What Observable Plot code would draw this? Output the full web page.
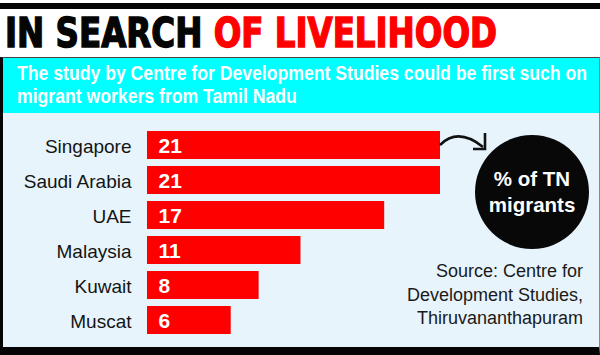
<!DOCTYPE html>
<html>
<head>
<meta charset="utf-8">
<script src="https://cdn.jsdelivr.net/npm/d3@7"></script>
<script src="https://cdn.jsdelivr.net/npm/@observablehq/plot@0.6"></script>
<style>
  html, body { margin: 0; padding: 0; background: #fff; }
  #root { position: relative; width: 600px; height: 355px; overflow: hidden; background: #fff; }
  #topbar { position: absolute; left: 0; top: 3px; width: 600px; height: 6px; background: #050505; }
  #title { position: absolute; left: 5px; top: 13px; white-space: nowrap; font-family: "DejaVu Sans", sans-serif; font-stretch: condensed; font-weight: 900; font-size: 41px; line-height: 41px; transform-origin: 0 0; }
  #title .b { color: #050505; -webkit-text-stroke: 1.4px #050505; }
  #title .r { color: #FF0000; -webkit-text-stroke: 1.4px #FF0000; }
  #panel { position: absolute; left: 0; top: 57px; width: 600px; height: 298px; box-sizing: border-box; border-left: 3px solid #050505; border-bottom: 8px solid #050505; border-top: 1px solid #444; border-right: 1px solid #888; background: #E8F4FC; }
  #cyan { position: absolute; left: 0; top: 0; right: 0; height: 55px; background: #00FFFF; }
  #sub { position: absolute; left: 14px; top: 3px; white-space: nowrap; color: #fff; font-family: "Liberation Sans", Arial, sans-serif; font-weight: bold; font-size: 21px; line-height: 23px; transform-origin: 0 0; }
  #chart { position: absolute; left: 0; top: 55px; }
  #circle { position: absolute; left: 475px; top: 135px; width: 114px; height: 114px; border-radius: 50%; background: #080808; color: #fff; display: flex; align-items: center; justify-content: center; text-align: center; font-family: "Liberation Sans", Arial, sans-serif; font-weight: bold; font-size: 20.5px; line-height: 26px; }
  #source { position: absolute; right: 17px; top: 260px; text-align: right; color: #1a1a1a; font-family: "Liberation Sans", Arial, sans-serif; font-size: 18px; line-height: 23.5px; white-space: nowrap; }
  #arrow { position: absolute; left: 0; top: 0; }
</style>
</head>
<body>
<div id="root">
  <div id="topbar"></div>
  <div id="title"></div>
  <div id="panel">
    <div id="cyan"><div id="sub"></div></div>
    <div id="chart"></div>
  </div>
  <svg id="arrow" width="600" height="355"></svg>
  <div id="circle"><div id="circletext"></div></div>
  <div id="source"></div>
</div>
<script>
// ---- data ----
const titleBlack = "IN SEARCH";
const titleRed = "OF LIVELIHOOD";
const subtitleLines = [
  "The study by Centre for Development Studies could be first such on",
  "migrant workers from Tamil Nadu"
];
const countries = ["Singapore", "Saudi Arabia", "UAE", "Malaysia", "Kuwait", "Muscat"];
const shares = [21, 21, 17, 11, 8, 6];
const badgeLines = ["% of TN", "migrants"];
const sourceLines = ["Source: Centre for", "Development Studies,", "Thiruvananthapuram"];

// ---- header ----
const title = document.getElementById("title");
title.innerHTML = "";
const sb = document.createElement("span"); sb.className = "b"; sb.textContent = titleBlack + " ";
const sr = document.createElement("span"); sr.className = "r"; sr.textContent = titleRed;
title.append(sb, sr);
{
  const w = title.getBoundingClientRect().width;
  title.style.transform = `scaleX(${492 / w})`;
}

const sub = document.getElementById("sub");
subtitleLines.forEach((t) => {
  const d = document.createElement("div");
  d.textContent = t;
  sub.appendChild(d);
});
{
  const probe = document.createElement("span");
  probe.textContent = subtitleLines[0];
  probe.style.cssText = "position:absolute;visibility:hidden;white-space:nowrap;font-family:'Liberation Sans',Arial,sans-serif;font-weight:bold;font-size:21px;";
  document.body.appendChild(probe);
  const w = probe.getBoundingClientRect().width;
  probe.remove();
  sub.style.transform = `scaleX(${570 / w})`;
}

// ---- chart ----
const data = countries.map((c, i) => ({country: c, share: shares[i]}));
const chart = Plot.plot({
  width: 596,
  height: 234,
  marginLeft: 144,
  marginRight: 159,
  marginTop: 9,
  marginBottom: 4,
  x: {domain: [0, d3.max(shares)], axis: null},
  y: {domain: countries, padding: 0.2, axis: null},
  style: {background: "#E8F4FC", fontFamily: "'Liberation Sans', Arial, sans-serif", overflow: "visible"},
  marks: [
    Plot.barX(data, {x: "share", y: "country", fill: "#FF0000"}),
    Plot.text(data, {y: "country", text: "country", frameAnchor: "left", textAnchor: "end", dx: -16, dy: 1, fontSize: 19, fill: "#141414"}),
    Plot.text(data, {y: "country", text: d => String(d.share), frameAnchor: "left", textAnchor: "start", dx: 11, dy: 1, fontSize: 21, fontWeight: "bold", fill: "#ffffff"})
  ]
});
document.getElementById("chart").appendChild(chart);

// ---- annotations ----
document.getElementById("circletext").innerHTML = badgeLines.map(t => `<div>${t}</div>`).join("");
document.getElementById("source").innerHTML = sourceLines.map(t => `<div>${t}</div>`).join("");

const arrow = d3.select("#arrow");
arrow.append("path")
  .attr("d", "M440,145 Q458,127 483,147")
  .attr("fill", "none").attr("stroke", "#111").attr("stroke-width", 2.6);
arrow.append("path")
  .attr("d", "M485,133 L485,149 L473,149")
  .attr("fill", "none").attr("stroke", "#111").attr("stroke-width", 2.6);
</script>
</body>
</html>
